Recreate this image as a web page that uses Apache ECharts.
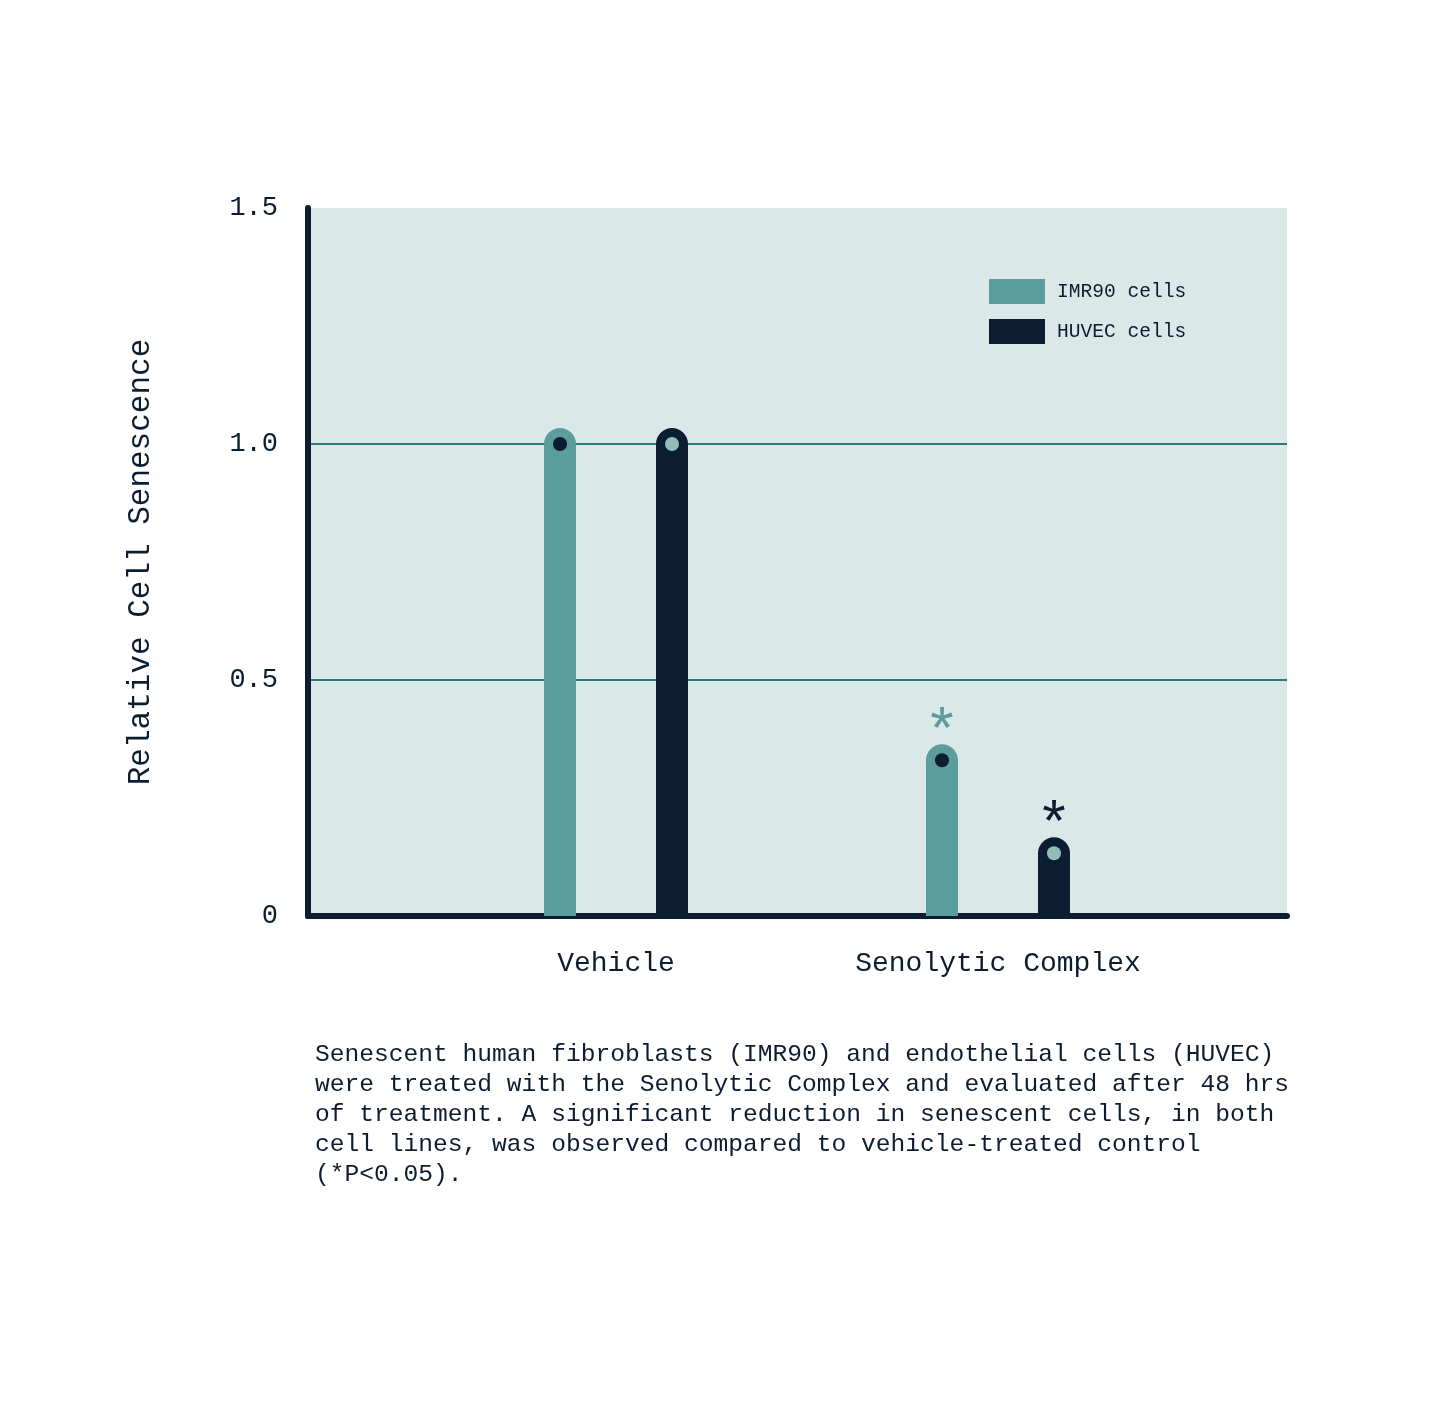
<!DOCTYPE html>
<html>
<head>
<meta charset="utf-8">
<title>Relative Cell Senescence</title>
<script src="https://cdn.jsdelivr.net/npm/echarts@6/dist/echarts.min.js"></script>
<style>
  html, body { margin: 0; padding: 0; background: #ffffff; }
  #chart { width: 1440px; height: 1408px; }
</style>
</head>
<body>
<div id="chart"></div>
<script>
// data
var categories = ['Vehicle', 'Senolytic Complex'];
var imr90 = [1.0, 0.33];
var huvec = [1.0, 0.133];
var imr90Sig = [false, true];
var huvecSig = [false, true];
var yTicks = [0, 0.5, 1.0, 1.5];
var caption = [
  'Senescent human fibroblasts (IMR90) and endothelial cells (HUVEC)',
  'were treated with the Senolytic Complex and evaluated after 48 hrs',
  'of treatment. A significant reduction in senescent cells, in both',
  'cell lines, was observed compared to vehicle-treated control',
  '(*P<0.05).'
];

var NAVY = '#0d1d31';
var TEAL = '#5a9d9c';
var LIGHT = '#93bcb9';
var BG = '#dbe8e8';
var GRID = '#2e7a78';
var FONT = '"Liberation Mono", "DejaVu Sans Mono", monospace';

var chart = echarts.init(document.getElementById('chart'));

function makeRender(offset, barColor, dotColor, sig) {
  return function (params, api) {
    var idx = api.value(0);
    var v = api.value(1);
    var p = api.coord([idx, v]);
    var base = api.coord([idx, 0]);
    var x = p[0] + offset;
    var children = [
      {
        type: 'rect',
        shape: { x: x - 16, y: p[1] - 16, width: 32, height: base[1] - p[1] + 16, r: [16, 16, 0, 0] },
        style: { fill: barColor }
      },
      {
        type: 'circle',
        shape: { cx: x, cy: p[1], r: 7 },
        style: { fill: dotColor }
      }
    ];
    if (sig[params.dataIndex]) {
      children.push({
        type: 'text',
        x: x,
        y: p[1] - 26,
        style: {
          text: '*',
          fill: barColor,
          font: '60px ' + FONT,
          align: 'center',
          verticalAlign: 'middle'
        }
      });
    }
    return { type: 'group', children: children };
  };
}

function toPairs(arr) {
  return arr.map(function (v, i) { return [i, v]; });
}

var captionGraphics = caption.map(function (line, i) {
  return {
    type: 'text',
    left: 315,
    top: 1042 + i * 30,
    style: { text: line, fill: NAVY, font: '24.6px ' + FONT }
  };
});

chart.setOption({
  backgroundColor: '#ffffff',
  animation: false,
  grid: [
    { left: 308, right: 153, top: 208, bottom: 492, show: true, backgroundColor: BG, borderWidth: 0 },
    { left: 425, right: 251, top: 208, bottom: 492 }
  ],
  xAxis: [
    {
      gridIndex: 0, type: 'value', min: 0, max: 1,
      axisLine: { show: true, lineStyle: { color: NAVY, width: 6, cap: 'round' } },
      axisTick: { show: false }, axisLabel: { show: false }, splitLine: { show: false }
    },
    {
      gridIndex: 1, type: 'category', data: categories,
      axisLine: { show: false }, axisTick: { show: false },
      axisLabel: { color: NAVY, fontFamily: FONT, fontSize: 28, margin: 34 }
    }
  ],
  yAxis: [
    {
      gridIndex: 0, type: 'value', min: yTicks[0], max: yTicks[yTicks.length - 1], interval: 0.5,
      name: 'Relative Cell Senescence', nameLocation: 'middle', nameGap: 152,
      nameTextStyle: { color: NAVY, fontFamily: FONT, fontSize: 31 },
      axisLine: { show: true, lineStyle: { color: NAVY, width: 6, cap: 'round' } },
      axisTick: { show: false },
      axisLabel: {
        color: NAVY, fontFamily: FONT, fontSize: 27, margin: 30,
        formatter: function (v) { return v === 0 ? '0' : v.toFixed(1); }
      },
      splitLine: { show: true, lineStyle: { color: ['rgba(0,0,0,0)', GRID, GRID, 'rgba(0,0,0,0)'], width: 2 } }
    },
    {
      gridIndex: 1, type: 'value', min: 0, max: 1.5, show: false
    }
  ],
  legend: {
    orient: 'vertical', left: 989, top: 279, padding: 0,
    itemWidth: 56, itemHeight: 25, itemGap: 15,
    textStyle: { color: NAVY, fontFamily: FONT, fontSize: 19.6, padding: [0, 0, 0, 7] },
    data: [{ name: 'IMR90 cells', icon: 'rect' }, { name: 'HUVEC cells', icon: 'rect' }]
  },
  series: [
    {
      name: 'IMR90 cells', type: 'custom', xAxisIndex: 1, yAxisIndex: 1,
      itemStyle: { color: TEAL },
      renderItem: makeRender(-56, TEAL, NAVY, imr90Sig),
      data: toPairs(imr90)
    },
    {
      name: 'HUVEC cells', type: 'custom', xAxisIndex: 1, yAxisIndex: 1,
      itemStyle: { color: NAVY },
      renderItem: makeRender(56, NAVY, LIGHT, huvecSig),
      data: toPairs(huvec)
    }
  ],
  graphic: captionGraphics
});
</script>
</body>
</html>
